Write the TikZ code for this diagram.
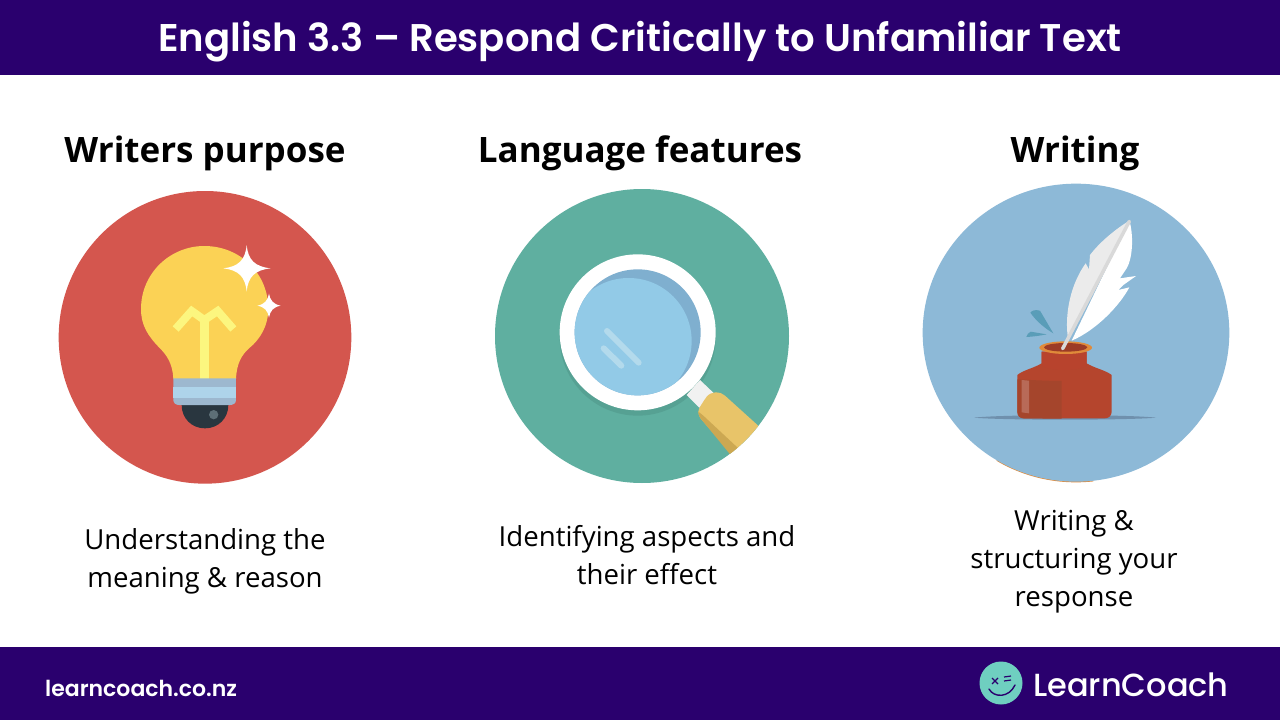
\documentclass[tikz,border=0pt]{standalone}
\usepackage{fontspec}
\setmainfont{Open Sans}
\newfontfamily\popfont{Poppins}[BoldFont={Poppins SemiBold}]
\newfontfamily\popmed{Poppins Medium}
\usetikzlibrary{calc}
\definecolor{band}{HTML}{2A006E}
\definecolor{redc}{HTML}{D4564E}
\definecolor{greenc}{HTML}{5FAFA0}
\definecolor{greend}{HTML}{56A193}
\definecolor{bluec}{HTML}{8DB9D7}
\definecolor{bulb}{HTML}{FBD255}
\definecolor{filam}{HTML}{FCF67F}
\definecolor{basea}{HTML}{9DB8CF}
\definecolor{baseb}{HTML}{AED4EA}
\definecolor{capc}{HTML}{29363F}
\definecolor{capd}{HTML}{5D6F77}
\definecolor{glass}{HTML}{92CAE7}
\definecolor{glassd}{HTML}{7FAFCF}
\definecolor{glassl}{HTML}{B3DAEC}
\definecolor{hand}{HTML}{E8C469}
\definecolor{handd}{HTML}{CCA852}
\definecolor{shaft}{HTML}{F1F1F1}
\definecolor{inkr}{HTML}{B5452D}
\definecolor{inkd}{HTML}{A5452C}
\definecolor{inkn}{HTML}{B8432D}
\definecolor{inkin}{HTML}{9C3B26}
\definecolor{rimc}{HTML}{E08A3A}
\definecolor{inkh}{HTML}{B86A58}
\definecolor{shad}{HTML}{6F90AD}
\definecolor{splash}{HTML}{5A9DB8}
\definecolor{featherd}{HTML}{EBEBEB}
\definecolor{spine}{HTML}{D9D9D9}
\definecolor{logoc}{HTML}{6FCFC0}
\tikzset{
  headtext/.style={font=\fontsize{35}{40}\selectfont\bfseries,text=black,inner sep=0pt,anchor=base},
  bodytext/.style={font=\fontsize{27.6}{38}\selectfont,text=black,inner sep=0pt,align=center,anchor=center},
  bandbox/.style={fill=band,draw=none},
}
\begin{document}
\begin{tikzpicture}[x=1pt,y=-1pt]
\useasboundingbox (0,0) rectangle (1280,720);
\fill[white] (0,0) rectangle (1280,720);
\fill[bandbox] (0,0) rectangle (1280,75);
\fill[bandbox] (0,647) rectangle (1280,720);
\node[font=\popfont\bfseries\fontsize{38.6}{40}\selectfont,text=white,inner sep=0pt,anchor=base] (title) at (640,51) {English 3.3 – Respond Critically to Unfamiliar Text};
\node[headtext] (h1) at (205,162) {Writers purpose};
\node[headtext] (h2) at (640,162) {Language features};
\node[headtext] (h3) at (1075,162) {Writing};
\node[bodytext] (b1) at (205,561) {Understanding the\\meaning \& reason};
\node[bodytext] (b2) at (647,555) {Identifying aspects and\\their effect};
\node[bodytext] (b3) at (1074,562) {Writing \&\\structuring your\\response};
\node[font=\popfont\bfseries\fontsize{22}{24}\selectfont,text=white,inner sep=0pt,anchor=base west] (site) at (45,696) {learncoach.co.nz};
\node[font=\popmed\fontsize{32}{36}\selectfont,text=white,inner sep=0pt,anchor=base west] (brand) at (1033,696) {LearnCoach};

% lightbulb icon
\begin{scope}[shift={(50,185)},scale=1/3]
\fill[redc] (465,457) circle (439);
\fill[bulb] (370,582) .. controls (368,535) and (350,510) .. (328,488)
  .. controls (293,452) and (273,420) .. (273,372)
  .. controls (273,265) and (360,183) .. (463,183)
  .. controls (570,183) and (655,265) .. (655,372)
  .. controls (655,420) and (632,462) .. (597,490)
  .. controls (575,510) and (560,535) .. (558,582) -- cycle;
\fill[filam] (451,582) -- (451,405) -- (477,405) -- (477,582) -- cycle;
\draw[filam,line width=8pt] (377,432) -- (425,378) -- (463,405) -- (503,378) -- (550,432);
\fill[capc] (395,650) -- (535,650) -- (535,660) .. controls (535,700) and (505,730) .. (465,730) .. controls (425,730) and (395,700) .. (395,660) -- cycle;
\fill[capd] (491,689) circle (14);
\fill[basea] (370,580) -- (558,580) -- (558,645) .. controls (558,655) and (550,660) .. (540,660) -- (388,660) .. controls (378,660) and (370,655) .. (370,645) -- cycle;
\fill[baseb] (370,605) rectangle (558,640);
\fill[white] (590,180) .. controls (594,225) and (615,245) .. (662,250)
  .. controls (615,255) and (594,275) .. (590,320)
  .. controls (586,275) and (565,255) .. (520,250)
  .. controls (565,245) and (586,225) .. (590,180) -- cycle;
\fill[white] (657,326) .. controls (660,345) and (670,358) .. (692,362)
  .. controls (670,366) and (660,378) .. (657,398)
  .. controls (654,378) and (644,366) .. (622,362)
  .. controls (644,358) and (654,345) .. (657,326) -- cycle;
\end{scope}

% magnifier icon
\begin{scope}[shift={(490,185)},scale=1/3]
\fill[greenc] (456,453) circle (441);
\fill[greend] (443,458) circle (234);
\fill[shaft] (590,630) -- (630,585) -- (672,625) -- (628,668) -- cycle;
\begin{scope}
\clip (456,453) circle (441);
\fill[hand] (625,680) .. controls (625,670) and (640,650) .. (650,635)
  .. controls (665,618) and (690,618) .. (705,632) -- (830,745) -- (745,830) -- (640,710) .. controls (630,700) and (625,690) .. (625,680) -- cycle;
\fill[handd] (625,680) -- (640,692) -- (745,790) -- (730,820) -- (640,710) .. controls (630,700) and (625,690) .. (625,680) -- cycle;
\end{scope}
\fill[white] (443,442) circle (234);
\fill[glassd] (443,442) circle (189);
\begin{scope}
\clip (443,442) circle (189);
\fill[glass] (416,468) circle (189);
\end{scope}
\draw[glassl,line width=6pt,line cap=round] (351,438) -- (446,533);
\draw[glassl,line width=6pt,line cap=round] (341,490) -- (394,542);
\end{scope}

% quill and inkwell icon
\begin{scope}[shift={(920,180)},scale=1/3]
\begin{scope}
\clip (230,800) rectangle (520,920);
\fill[rimc] (468,460) ellipse (460 and 447);
\end{scope}
\fill[bluec] (468,458) ellipse (460 and 447);
\fill[shad] (162,713) .. controls (250,703) and (620,703) .. (708,713) .. controls (620,721) and (250,721) .. (162,713) -- cycle;
\fill[splash] (400,460) -- (360,392) .. controls (345,388) and (335,392) .. (331,398) .. controls (350,425) and (375,445) .. (400,460) -- cycle;
\fill[splash] (380,463) -- (332,455) .. controls (325,458) and (320,465) .. (319,471) .. controls (340,470) and (360,467) .. (380,463) -- cycle;
% inkwell
\fill[inkr] (365,515) -- (500,515) -- (500,550) .. controls (525,565) and (555,570) .. (575,585) -- (575,695) .. controls (575,708) and (565,715) .. (555,715) -- (312,715) .. controls (300,715) and (292,708) .. (292,695) -- (292,585) .. controls (310,570) and (340,565) .. (365,550) -- cycle;
\fill[inkd] (292,598) .. controls (330,600) and (390,603) .. (425,603) -- (425,716) -- (312,715) .. controls (300,715) and (292,708) .. (292,695) -- cycle;
\fill[inkh] (305,600) -- (327,602) -- (327,700) -- (305,697) -- cycle;
\fill[inkn] (365,515) -- (500,515) -- (500,555) .. controls (480,575) and (385,575) .. (365,555) -- cycle;
\fill[rimc] (437,503) ellipse (79 and 19);
\fill[inkin] (437,502) ellipse (65 and 13);
% feather
\fill[white] (628,122) .. controls (640,160) and (640,230) .. (620,265)
  -- (600,295) -- (648,288) -- (610,315) -- (595,330) -- (628,322)
  .. controls (600,375) and (530,450) .. (455,482) -- cycle;
\fill[featherd] (628,122) -- (445,480)
  .. controls (435,430) and (440,330) .. (497,250) -- (507,268) -- (510,225)
  .. controls (540,185) and (590,145) .. (628,122) -- cycle;
\draw[spine,line width=3.5pt,line cap=round] (428,506) -- (628,124);
\end{scope}

% logo
\fill[logoc] (1001,683) circle (21.5);
\draw[band,line width=1.2pt] (992,678) -- (998,684) (998,678) -- (992,684);
\draw[band,line width=1.2pt] (1004,677) -- (1011,676) (1004,681) -- (1011,680);
\draw[band,line width=1.4pt,line cap=round] (989,689) .. controls (994,698) and (1009,698) .. (1015,685);
\end{tikzpicture}
\end{document}
